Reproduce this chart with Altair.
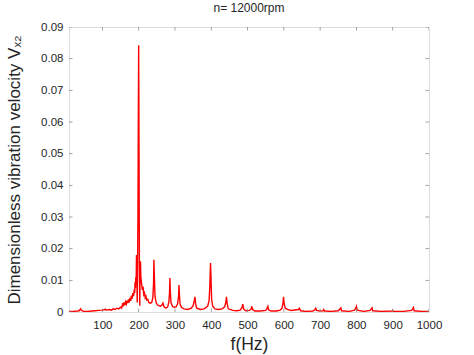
import altair as alt
import pandas as pd

freq = [8, 20, 30, 36, 40, 43, 50, 60, 70, 80, 90, 100, 105, 108, 111, 120, 125, 130, 135, 140,
        145, 150, 153, 156, 158, 160, 162, 164, 166, 168, 170, 172, 174, 176, 178, 180, 182, 184,
        186, 188, 189, 190, 191, 192, 193, 194, 195, 196, 197, 198, 199, 200, 201, 202, 203, 204,
        205, 206, 208, 210, 212, 214, 216, 218, 220, 222, 225, 228, 232, 236, 239, 241, 242, 243,
        245, 248, 252, 256, 260, 264, 267, 270, 275, 280, 283, 285, 286, 287, 289, 293, 298, 303,
        307, 310, 311, 312, 314, 318, 325, 335, 345, 350, 353, 355, 357, 360, 370, 380, 390, 394,
        396, 398, 399, 401, 404, 410, 420, 430, 437, 440, 442, 444, 447, 460, 470, 480, 485, 487,
        489, 495, 505, 510, 512, 514, 520, 535, 550, 553, 556, 558, 565, 580, 590, 595, 598, 599,
        601, 604, 610, 620, 640, 643, 646, 660, 680, 686, 688, 690, 700, 708, 710, 712, 730, 750,
        755, 757, 759, 780, 795, 798, 800, 802, 820, 838, 841, 843, 845, 870, 898, 900, 902, 930,
        952, 955, 957, 959, 980, 1000]
amp = [0.0002, 0.0002, 0.0003, 0.0004, 0.0010, 0.0004, 0.0002, 0.0002, 0.0003, 0.0004, 0.0005,
       0.0006, 0.0007, 0.0009, 0.0006, 0.0008, 0.0006, 0.0010, 0.0008, 0.0012, 0.0010, 0.0015,
       0.0012, 0.0028, 0.0018, 0.0030, 0.0022, 0.0032, 0.0025, 0.0036, 0.0028, 0.0040, 0.0030,
       0.0045, 0.0035, 0.0052, 0.0042, 0.0060, 0.0050, 0.0072, 0.0060, 0.0095, 0.0075, 0.0110,
       0.0090, 0.0180, 0.0120, 0.0030, 0.0140, 0.0300, 0.0600, 0.0842, 0.0500, 0.0150, 0.0020,
       0.0120, 0.0160, 0.0110, 0.0090, 0.0070, 0.0080, 0.0055, 0.0060, 0.0045, 0.0050, 0.0038,
       0.0040, 0.0030, 0.0028, 0.0030, 0.0045, 0.0090, 0.0165, 0.0120, 0.0050, 0.0030, 0.0022,
       0.0020, 0.0018, 0.0022, 0.0028, 0.0016, 0.0012, 0.0016, 0.0030, 0.0060, 0.0107, 0.0070,
       0.0030, 0.0018, 0.0015, 0.0016, 0.0025, 0.0050, 0.0085, 0.0060, 0.0025, 0.0014, 0.0010,
       0.0008, 0.0012, 0.0020, 0.0035, 0.0048, 0.0025, 0.0012, 0.0008, 0.0010, 0.0018, 0.0035,
       0.0080, 0.0155, 0.0120, 0.0040, 0.0018, 0.0010, 0.0008, 0.0010, 0.0016, 0.0030, 0.0048,
       0.0025, 0.0010, 0.0005, 0.0004, 0.0006, 0.0015, 0.0025, 0.0010, 0.0004, 0.0005, 0.0010,
       0.0018, 0.0008, 0.0003, 0.0003, 0.0005, 0.0010, 0.0018, 0.0007, 0.0003, 0.0003, 0.0006,
       0.0012, 0.0030, 0.0048, 0.0025, 0.0012, 0.0008, 0.0005, 0.0008, 0.0012, 0.0004, 0.0002,
       0.0003, 0.0008, 0.0012, 0.0005, 0.0003, 0.0004, 0.0008, 0.0003, 0.0002, 0.0004, 0.0010,
       0.0013, 0.0004, 0.0002, 0.0006, 0.0012, 0.0018, 0.0006, 0.0002, 0.0005, 0.0010, 0.0013,
       0.0004, 0.0002, 0.0003, 0.0005, 0.0002, 0.0002, 0.0005, 0.0010, 0.0014, 0.0004, 0.0002,
       0.0002]

x_ticks = [100, 200, 300, 400, 500, 600, 700, 800, 900, 1000]
y_ticks = [0, 0.01, 0.02, 0.03, 0.04, 0.05, 0.06, 0.07, 0.08, 0.09]
x_domain = [8, 1000]
y_domain = [0, 0.09]

title_text = "n= 12000rpm"
x_title = "f(Hz)"
y_title = "Dimensionless vibration velocity V\u2093\u2082"

df = pd.DataFrame({"f": freq, "v": amp})
xt = pd.DataFrame({"t": x_ticks})
yt = pd.DataFrame({"t": y_ticks})

FRAME = "#8a8a8a"
TXT = "#262626"
FONT = "Liberation Sans"

xscale = alt.Scale(domain=x_domain, nice=False, zero=False)
yscale = alt.Scale(domain=y_domain, nice=False)

x_axis = alt.Axis(values=x_ticks, ticks=False, grid=False, domain=False, format="d",
                  labelOverlap=False, labelFlush=False, labelBound=False,
                  labelFontSize=11.5, labelColor=TXT, labelFont=FONT, labelPadding=7,
                  title=x_title, titleFontSize=17.5, titleFont=FONT, titleColor=TXT,
                  titleFontWeight="normal", titleY=37, titleBaseline="alphabetic")
y_axis = alt.Axis(values=y_ticks, ticks=False, grid=False, domain=False,
                  labelOverlap=False, labelFlush=False, labelBound=False,
                  labelFontSize=11.5, labelColor=TXT, labelFont=FONT, labelPadding=6,
                  labelExpr="datum.value == 0 ? '0' : format(datum.value, '.2f')",
                  title=y_title, titleFontSize=17, titleFont=FONT, titleColor=TXT,
                  titleFontWeight="normal", titleX=-50, titleBaseline="alphabetic",
                  titleAngle=-90)

line = alt.Chart(df).mark_line(color="#ff0000", strokeWidth=1.4, clip=True).encode(
    x=alt.X("f:Q", scale=xscale, axis=x_axis),
    y=alt.Y("v:Q", scale=yscale, axis=y_axis),
)

tick_style = dict(color=FRAME, size=7, thickness=0.8, clip=True, opacity=1)
bottom_ticks = alt.Chart(xt).mark_tick(orient="vertical", **tick_style).encode(
    x=alt.X("t:Q", scale=xscale, axis=None), y=alt.YDatum(y_domain[0], axis=None))
top_ticks = alt.Chart(xt).mark_tick(orient="vertical", **tick_style).encode(
    x=alt.X("t:Q", scale=xscale, axis=None), y=alt.YDatum(y_domain[1], axis=None))
left_ticks = alt.Chart(yt).mark_tick(orient="horizontal", **tick_style).encode(
    y=alt.Y("t:Q", scale=yscale, axis=None), x=alt.XDatum(x_domain[0], axis=None))
right_ticks = alt.Chart(yt).mark_tick(orient="horizontal", **tick_style).encode(
    y=alt.Y("t:Q", scale=yscale, axis=None), x=alt.XDatum(x_domain[1], axis=None))

chart = alt.layer(line, bottom_ticks, top_ticks, left_ticks, right_ticks).resolve_axis(
    x="independent", y="independent"
).properties(
    width=360, height=285,
    autosize=alt.AutoSizeParams(type="none"),
    padding={"left": 69, "top": 27, "right": 45, "bottom": 43},
    title=alt.TitleParams(title_text, fontSize=12, font=FONT, color=TXT,
                          fontWeight="normal", offset=6),
).configure_view(stroke=FRAME, strokeWidth=1).configure_axis(
    labelOverlap=False, labelFlush=False
).configure(background="white")

chart.save("out.html", embed_options={"renderer": "svg", "actions": False})
